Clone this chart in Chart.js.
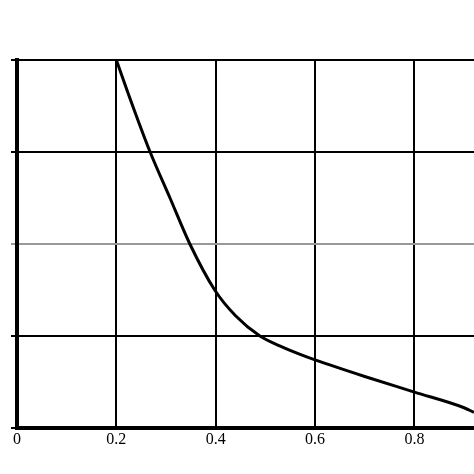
<!DOCTYPE html>
<html><head><script src="https://cdn.jsdelivr.net/npm/chart.js@4"></script>
<style>html,body{margin:0;background:#fff}#w{width:474px;height:474px}</style></head>
<body><div id="w"><canvas id="c"></canvas></div>
<script>
const xs = [0.2,0.233,0.268,0.308,0.348,0.398,0.44,0.489,0.53,0.57,0.6,0.7,0.8,0.9,0.92];
const ys = [4.0,3.5,3.0,2.5,2.0,1.5,1.22,1.0,0.89,0.8,0.74,0.56,0.39,0.22,0.17];
const xTicks = [0,0.2,0.4,0.6,0.8];
new Chart(document.getElementById('c'),{
 type:'line',
 data:{datasets:[{data:xs.map((x,i)=>({x,y:ys[i]})),borderColor:'#000',borderWidth:3,pointRadius:0,cubicInterpolationMode:'monotone'}]},
 options:{animation:false,responsive:true,maintainAspectRatio:false,
  layout:{padding:{top:60,right:0,left:0,bottom:0}},
  plugins:{legend:{display:false},tooltip:{enabled:false}},
  scales:{
   x:{type:'linear',min:0,max:0.92,
     afterBuildTicks:s=>{s.ticks=xTicks.map(v=>({value:v}));},
     afterFit:s=>{s.height=46;},
     grid:{color:'#000',lineWidth:2,tickLength:0},
     border:{color:'#000',width:4},
     ticks:{color:'#000',font:{family:'Liberation Serif',size:16},padding:2,maxRotation:0,callback:v=>String(v)}},
   y:{min:0,max:4,
     afterBuildTicks:s=>{s.ticks=[0,1,2,3,4].map(v=>({value:v}));},
     afterFit:s=>{s.width=17;},
     grid:{color:c=>c.tick&&c.tick.value===2?'#999':'#000',lineWidth:2,tickLength:6},
     border:{color:'#000',width:4},
     ticks:{display:false}}
  }}
});
</script></body></html>
